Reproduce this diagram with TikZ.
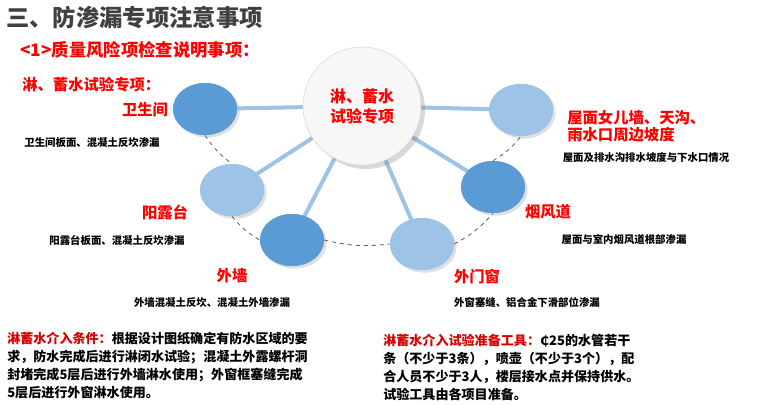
\documentclass[tikz,border=0pt]{standalone}
\usepackage{fontspec}
\setmainfont{Noto Sans CJK SC}
\newfontfamily\dvs{DejaVu Sans}
\newcommand\cjkb{\bfseries}
\XeTeXlinebreaklocale "zh"
\XeTeXlinebreakskip=0pt plus 1pt
\usetikzlibrary{shadows,shapes.geometric}
\definecolor{dblue}{HTML}{5B9BD5}
\definecolor{lblue}{HTML}{9DC3E6}
\definecolor{lnk}{HTML}{9DC3E6}
\definecolor{rd}{HTML}{FF0000}
\begin{document}
\begin{tikzpicture}[x=0.75pt,y=-0.75pt,
  bub/.style={ellipse,minimum width=64*0.75pt,minimum height=52*0.75pt,inner sep=0pt,drop shadow={opacity=0.25,shadow xshift=2pt,shadow yshift=-2pt}},
  lab/.style={text=rd,font=\cjkb\fontsize{11.5pt}{13pt}\selectfont,inner sep=0pt},
  desc/.style={font=\cjkb\fontsize{7.8pt}{8pt}\selectfont,inner sep=0pt},
  spoke/.style={lnk,line width=3pt},
  btxt/.style={anchor=north west,inner sep=0pt,align=left,font=\cjkb\fontsize{9.8pt}{13.5pt}\selectfont},
  dsh/.style={gray!70!black,dashed,line width=0.6pt}]
\useasboundingbox (0,0) rectangle (760,404);
\fill[white] (0,0) rectangle (760,404);
\node[anchor=west,inner sep=0pt,text=black!75,font=\cjkb\fontsize{17.5pt}{19pt}\selectfont] (t1) at (6,18) {三、防渗漏专项注意事项};
\node[anchor=west,inner sep=0pt,text=rd,font=\cjkb\fontsize{13pt}{15pt}\selectfont] (t2) at (20,50) {<1>质量风险项检查说明事项：};
\node[anchor=west,inner sep=0pt,text=rd,font=\cjkb\fontsize{11.5pt}{13pt}\selectfont] (t3) at (22,85) {淋、蓄水试验专项：};
% bubbles
\node[bub,fill=dblue] (a) at (205,109) {};
\node[bub,fill=lblue] (b) at (232,190) {};
\node[bub,fill=dblue] (c) at (292,240) {};
\node[bub,fill=lblue] (d) at (422,244) {};
\node[bub,fill=dblue] (e) at (493,187) {};
\node[bub,fill=lblue] (f) at (521,110) {};
\node[circle,minimum size=118*0.75pt,inner sep=0pt] (m) at (362,106) {};
\foreach \n in {a,b,c,d,e,f}{\draw[spoke] (m.center) -- (\n.center);}
\draw[dsh] (a.south) to[bend right=10] (b.north);
\draw[dsh] (b.south) to[bend right=10] (c.west);
\draw[dsh] (c.east) to[bend right=10] (d.west);
\draw[dsh] (d.east) to[bend right=10] (e.south);
\draw[dsh] (e.north) to[bend right=10] (f.south);
\foreach \n/\c in {a/dblue,b/lblue,c/dblue,d/lblue,e/dblue,f/lblue}{\fill[\c] (\n) ellipse (32*0.75pt and 26*0.75pt);}
\node[circle,minimum size=118*0.75pt,inner sep=0pt,draw=gray!30,fill=gray!6,drop shadow={opacity=0.3,shadow xshift=3pt,shadow yshift=-3pt},align=center,text=rd,font=\cjkb\fontsize{12pt}{15pt}\selectfont] (mc) at (362,106) {淋、蓄水\\试验专项};
% labels
\node[lab] (la) at (145,110) {卫生间};
\node[desc] (da) at (92,143) {卫生间板面、混凝土反坎渗漏};
\node[lab] (lb) at (165,212) {阳露台};
\node[desc] (db) at (117,240) {阳露台板面、混凝土反坎渗漏};
\node[lab] (lc) at (232,276) {外墙};
\node[desc] (dc) at (212,302) {外墙混凝土反坎、混凝土外墙渗漏};
\node[lab] (ld) at (477,277) {外门窗};
\node[desc] (dd) at (527,302) {外窗塞缝、铝合金下滑部位渗漏};
\node[lab] (le) at (548,212) {烟风道};
\node[desc] (de) at (624,240) {屋面与室内烟风道根部渗漏};
\node[lab,anchor=west,align=left] (lf) at (567,126) {屋面女儿墙、天沟、\\雨水口周边坡度};
\node[desc] (df) at (646,158) {屋面及排水沟排水坡度与下水口情况};
% bottom text
\node[btxt] (bl) at (7,332) {\textcolor{rd!85!black}{淋蓄水介入条件：}根据设计图纸确定有防水区域的要\\求，防水完成后进行淋闭水试验；混凝土外露螺杆洞\\封堵完成5层后进行外墙淋水使用；外窗框塞缝完成\\5层后进行外窗淋水使用。};
\node[btxt] (br) at (383,334) {\textcolor{rd!85!black}{淋蓄水介入试验准备工具：}{\dvs\bfseries ₵}25的水管若干\\条（不少于3条），喷壶（不少于3个），配\\合人员不少于3人，楼层接水点并保持供水。\\试验工具由各项目准备。};
\end{tikzpicture}
\end{document}
